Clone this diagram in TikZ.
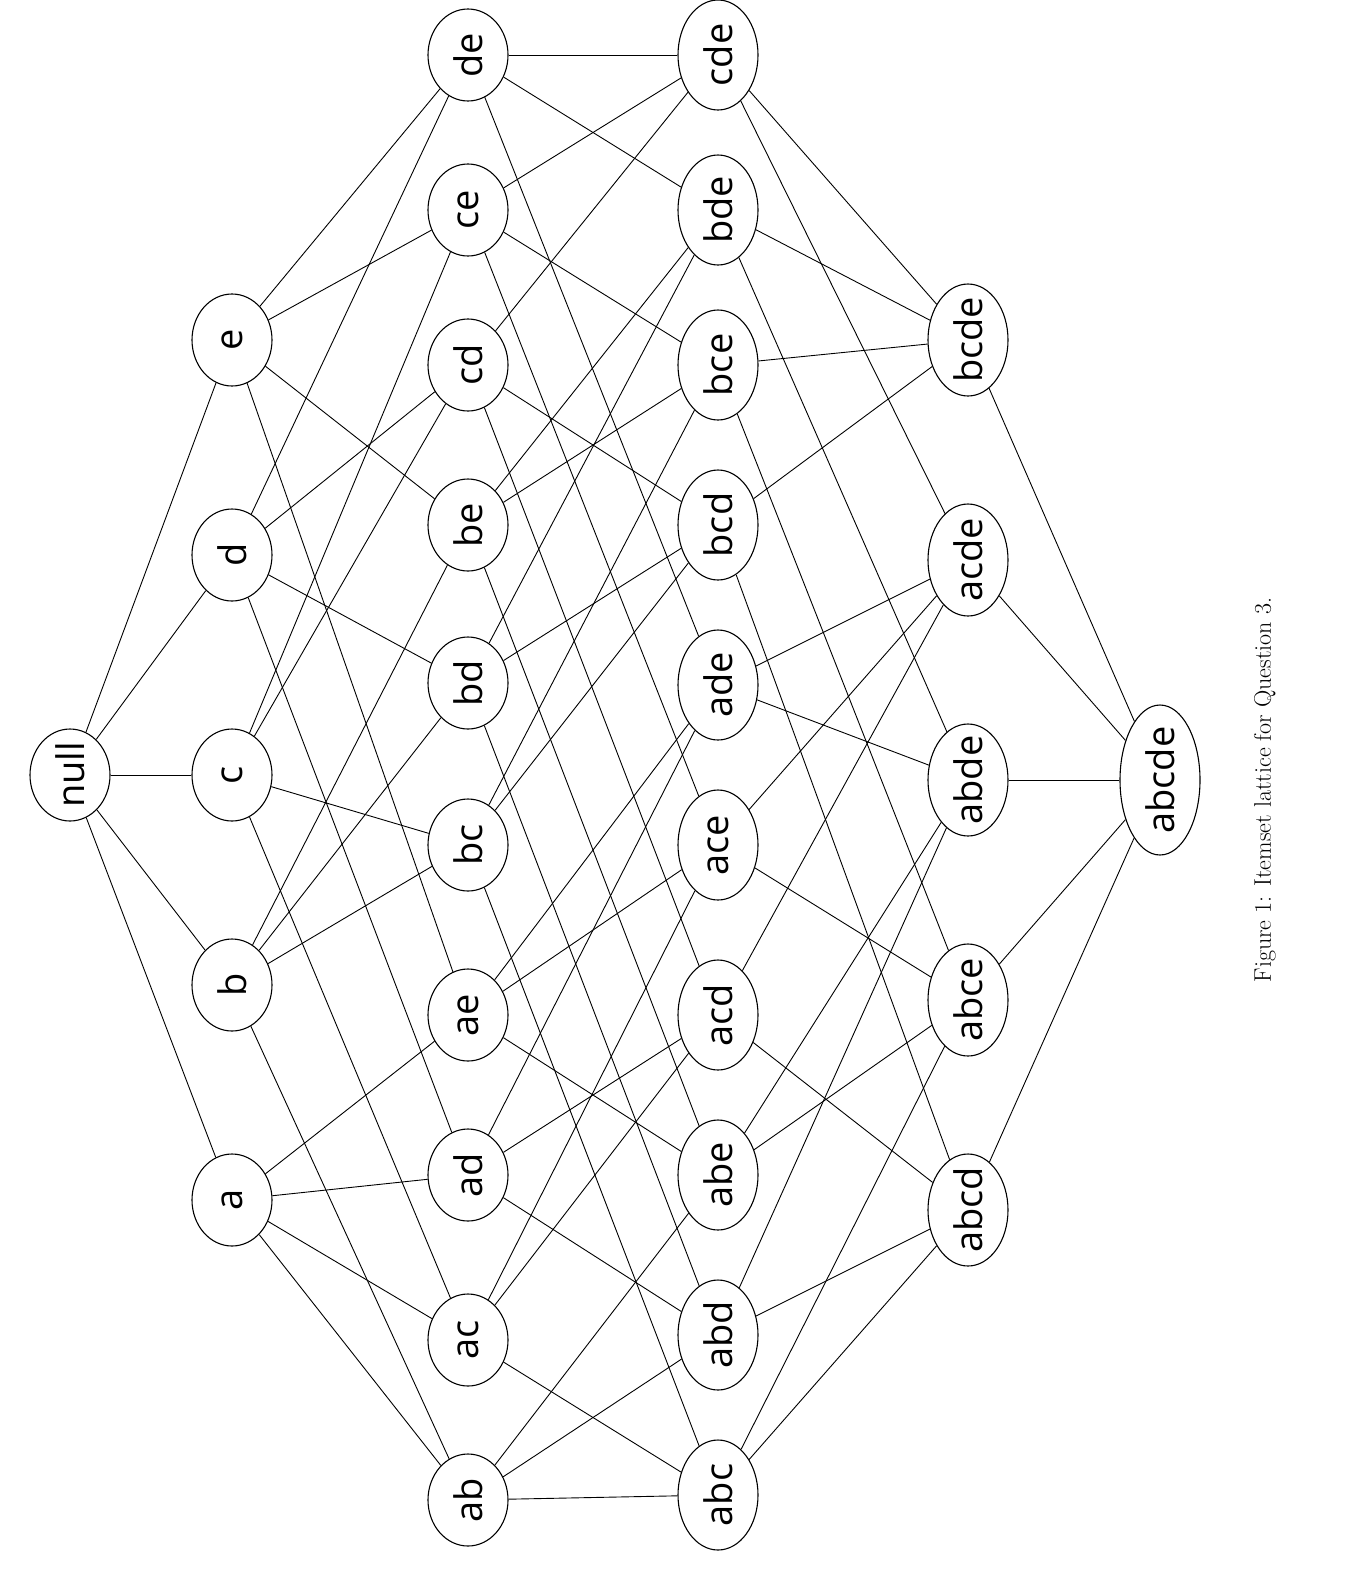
\documentclass[tikz,border=0pt]{standalone}
\usepackage{fontspec}
\setmainfont{Latin Modern Roman}
\newfontfamily\labfont{Open Sans}
\usetikzlibrary{shapes.geometric}
\tikzset{lat/.style={draw,ellipse,rotate=90,inner sep=0pt,minimum height=80pt,line width=1.1pt},
 lab/.style={rotate=90,font=\labfont\fontsize{38}{40}\selectfont},
 edge/.style={line width=0.9pt}}
\newcommand\lnode[4]{\node[lat,minimum width=#4] (#1) at (#2) {};\node[lab] at (#1) {#3};}
\begin{document}
\begin{tikzpicture}[x=1pt,y=-1pt]
\useasboundingbox (0,0) rectangle (1356,1585);
\lnode{null}{70,775}{null}{92pt}
\foreach \n/\y in {e/340,d/555,c/775,b/985,a/1200}{\lnode{\n}{232,\y}{\n}{92pt}}
\foreach \n/\y in {de/55,ce/210,cd/365,be/525,bd/683,bc/845,ae/1015,ad/1175,ac/1340,ab/1500}{\lnode{\n}{468,\y}{\n}{92pt}}
\foreach \n/\y in {cde/55,bde/210,bce/365,bcd/525,ade/685,ace/845,acd/1015,abe/1175,abd/1335,abc/1495}{\lnode{\n}{718,\y}{\n}{110pt}}
\foreach \n/\y in {bcde/340,acde/560,abde/780,abce/1000,abcd/1210}{\lnode{\n}{968,\y}{\n}{112pt}}
\lnode{abcde}{1160,780}{abcde}{150pt}
\foreach \t in {a,b,c,d,e}{\draw[edge] (null)--(\t);}
\foreach \t/\p/\q in {de/d/e,ce/c/e,cd/c/d,be/b/e,bd/b/d,bc/b/c,ae/a/e,ad/a/d,ac/a/c,ab/a/b}{\draw[edge] (\p)--(\t); \draw[edge] (\q)--(\t);}
\foreach \t/\p/\q/\r in {cde/cd/ce/de,bde/bd/be/de,bce/bc/be/ce,bcd/bc/bd/cd,ade/ad/ae/de,ace/ac/ae/ce,acd/ac/ad/cd,abe/ab/ae/be,abd/ab/ad/bd,abc/ab/ac/bc}{\draw[edge] (\p)--(\t); \draw[edge] (\q)--(\t); \draw[edge] (\r)--(\t);}
\foreach \t/\p/\q/\r/\s in {bcde/bcd/bce/bde/cde,acde/acd/ace/ade/cde,abde/abd/abe/ade/bde,abce/abc/abe/ace/bce,abcd/abc/abd/acd/bcd}{\draw[edge] (\p)--(\t); \draw[edge] (\q)--(\t); \draw[edge] (\r)--(\t); \draw[edge] (\s)--(\t);}
\foreach \p in {bcde,acde,abde,abce,abcd}{\draw[edge] (\p)--(abcde);}
\node[rotate=90,font=\fontsize{24}{26}\selectfont] (cap) at (1265,790) {Figure 1: Itemset lattice for Question 3.};
\end{tikzpicture}
\end{document}
